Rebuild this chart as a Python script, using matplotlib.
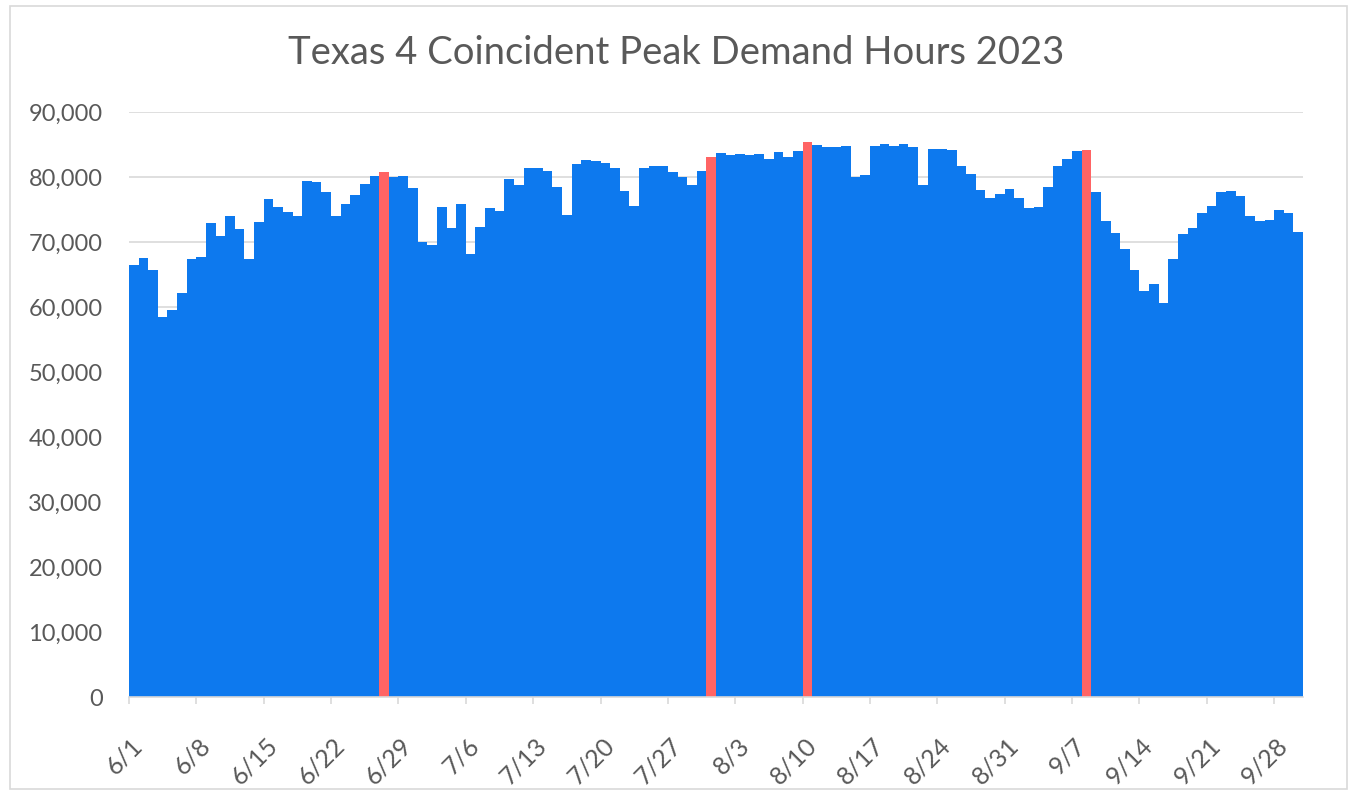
import matplotlib
matplotlib.use("Agg")
import matplotlib.pyplot as plt
from matplotlib.patches import Rectangle
from matplotlib.transforms import ScaledTranslation
import pandas as pd

plt.rcParams['font.family'] = ['Lato', 'DejaVu Sans']

# ---- data ----
start_date = "2023-06-01"
end_date = "2023-09-30"
demand_mw = [
    66400, 67500, 65650, 58400, 59500, 62100, 67350, 67650, 72850, 70850,
    73950, 71950, 67350, 73050, 76550, 75350, 74550, 73950, 79350, 79200,
    77650, 73950, 75800, 77200, 78850, 80100, 80700, 79950, 80100, 78250,
    69950, 69500, 75350, 72100, 75800, 68100, 72250, 75200, 74700, 79650,
    78700, 81350, 81350, 80850, 78400, 74100, 81950, 82550, 82400, 82100,
    81350, 77800, 75500, 81350, 81650, 81650, 80700, 79950, 78700, 80850,
    83050, 83650, 83350, 83500, 83350, 83500, 82700, 83800, 83050, 83950,
    85350, 84850, 84550, 84550, 84700, 80000, 80250, 84700, 85050, 84700,
    85050, 84550, 78700, 84250, 84250, 84100, 81650, 80400, 77950, 76700,
    77350, 78100, 76700, 75200, 75350, 78400, 81650, 82700, 83950, 84100,
    77650, 73200, 71350, 68850, 65650, 62400, 63500, 60550, 67350, 71200,
    72100, 74400, 75500, 77650, 77800, 77050, 73950, 73200, 73350, 74850,
    74400, 71500,
]
peak_days = ["6/27", "7/31", "8/10", "9/8"]
title = "Texas 4 Coincident Peak Demand Hours 2023"
y_ticks = [0, 10000, 20000, 30000, 40000, 50000, 60000, 70000, 80000, 90000]

dates = pd.date_range(start_date, end_date, freq="D")
day_labels = [f"{d.month}/{d.day}" for d in dates]

BLUE = "#0D79EE"
RED = "#FF6464"
GRID = "#D9D9D9"
TEXT = "#595959"

fig = plt.figure(figsize=(13.52, 8.0), dpi=100)
ax = fig.add_axes([129/1352, 1 - 697/800, (1303 - 129)/1352, (697 - 112)/800])

colors = [RED if lab in peak_days else BLUE for lab in day_labels]
xs = list(range(len(demand_mw)))
ax.bar([x + 0.5 for x in xs], demand_mw, width=1.0, color=colors, linewidth=0, zorder=3)

ax.set_xlim(0, len(demand_mw))
ax.set_ylim(0, 90000)

ax.set_yticks(y_ticks)
ax.set_yticklabels([f"{v:,}" for v in y_ticks])
ax.yaxis.grid(True, color=GRID, linewidth=1.2, zorder=0)
ax.tick_params(axis='y', length=0, pad=19, labelsize=17, labelcolor=TEXT)

# week ticks: marks at the left edge of each labeled day, labels at day centres
week_idx = list(range(0, len(demand_mw), 7))
ax.set_xticks(week_idx)
ax.set_xticklabels([""] * len(week_idx))
ax.set_xticks([i + 0.5 for i in week_idx], minor=True)
ax.set_xticklabels([day_labels[i] for i in week_idx], minor=True)
ax.tick_params(axis='x', which='major', length=5, width=1.2, color=GRID, direction='out')
ax.tick_params(axis='x', which='minor', length=0, pad=32, labelsize=18, labelcolor=TEXT)
shift = ScaledTranslation(5/100, 0, fig.dpi_scale_trans)
for lab in ax.get_xticklabels(minor=True):
    lab.set_rotation(45)
    lab.set_ha('right')
    lab.set_va('center')
    lab.set_rotation_mode('anchor')
    lab.set_transform(lab.get_transform() + shift)

for s in ['top', 'right', 'left']:
    ax.spines[s].set_visible(False)
ax.spines['bottom'].set_color(GRID)
ax.spines['bottom'].set_linewidth(1.2)
ax.spines['bottom'].set_zorder(4)

fig.text(0.5, 1 - 64/800, title, ha='center', va='baseline', fontsize=27.5, color=TEXT)

# outer chart border
fig.patches.append(Rectangle((10/1352, 1 - 789/800), (1347 - 10)/1352, (789 - 6)/800,
                             transform=fig.transFigure, fill=False, edgecolor=GRID,
                             linewidth=1.2))

fig.savefig("out.png", dpi=100, facecolor="white")
